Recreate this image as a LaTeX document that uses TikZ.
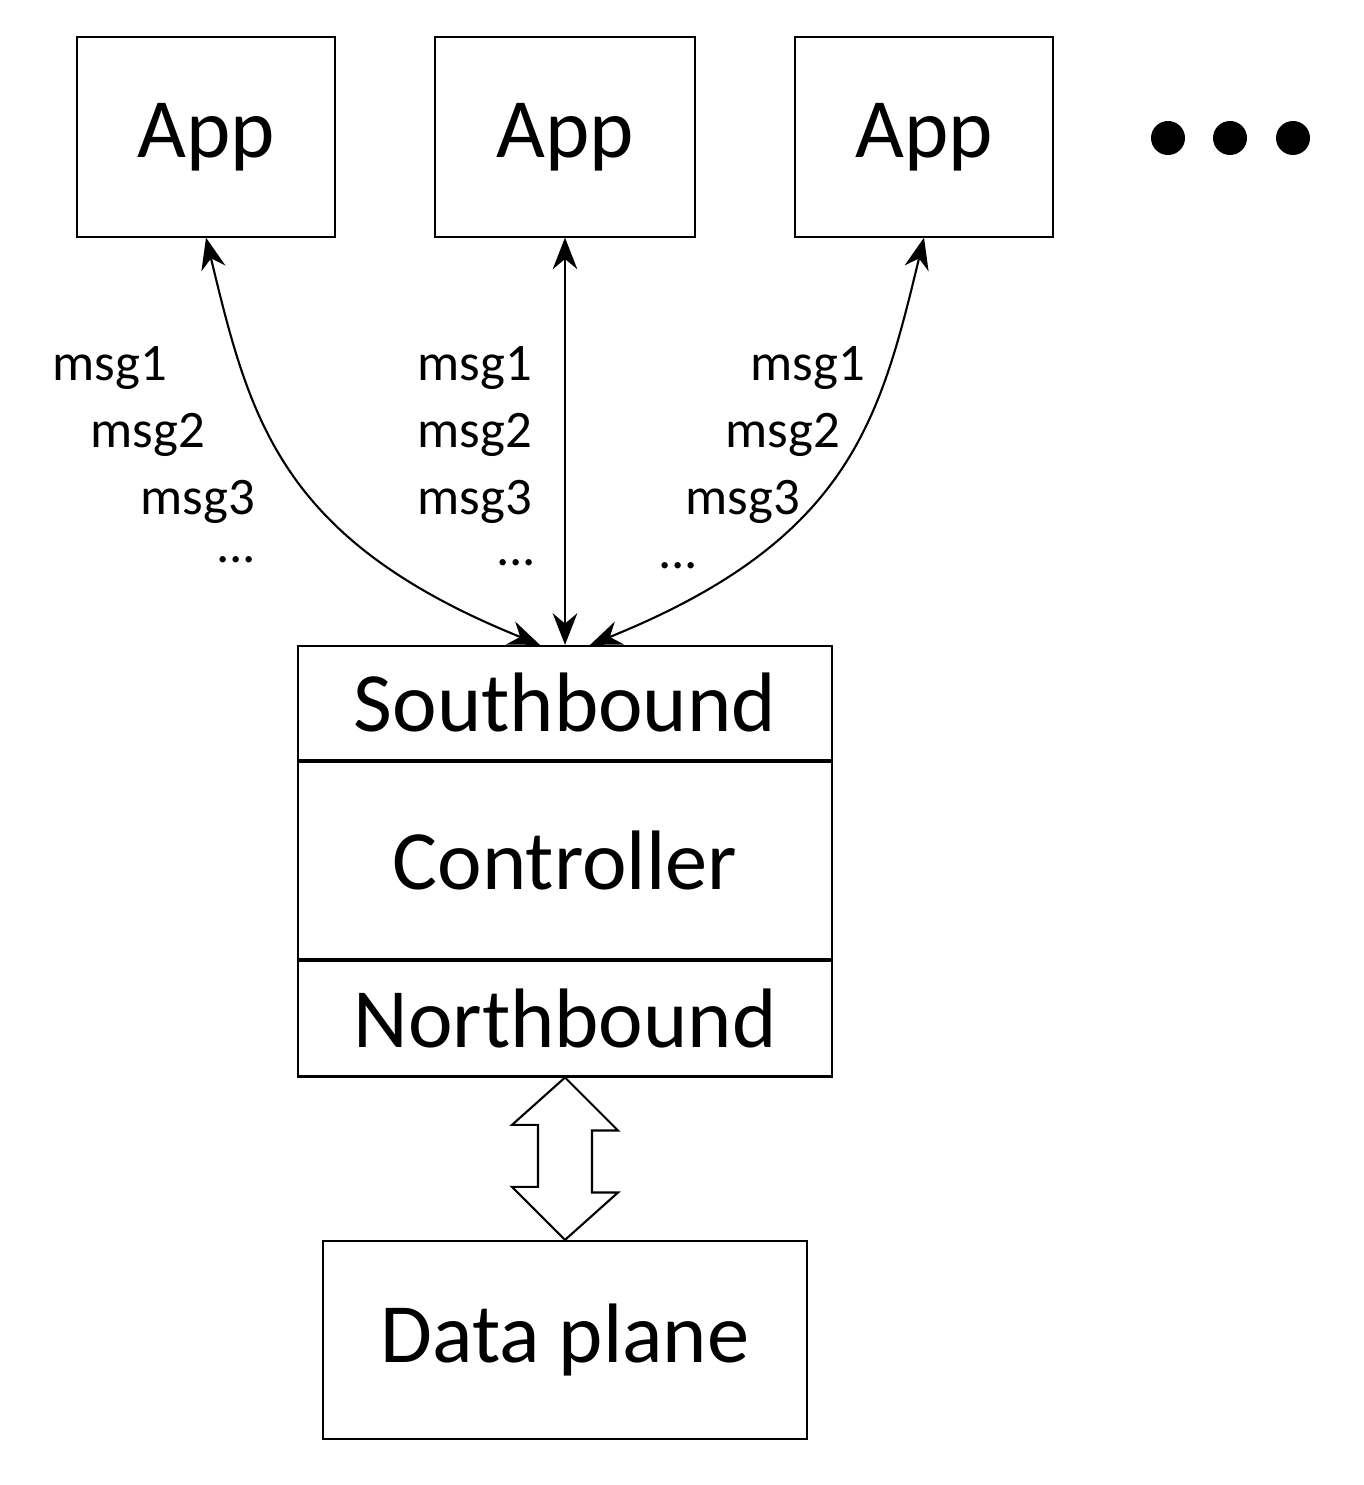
\documentclass[tikz,border=0pt]{standalone}
\usepackage{fontspec}
\setmainfont{Carlito}
\usetikzlibrary{positioning,arrows.meta,calc}

\begin{document}
\begin{tikzpicture}[x=0.01cm, y=-0.01cm, >={Stealth[length=9pt,width=7pt]},
  box/.style={draw, semithick, inner sep=0pt, font=\fontsize{24}{28}\selectfont},
  msg/.style={font=\fontsize{15}{18}\selectfont, inner sep=0pt}]
\useasboundingbox (0,0) rectangle (1364,1485);
% apps
\node[box, minimum width=2.58cm, minimum height=1.99cm] (A1) at (206,137) {App};
\node[box, minimum width=2.60cm, minimum height=1.99cm] (A2) at (565,137) {App};
\node[box, minimum width=2.58cm, minimum height=1.99cm] (A3) at (924,137) {App};
\foreach \x in {1168,1230,1293} \fill (\x,138) circle (17);
% controller stack
\node[box, minimum width=5.34cm, minimum height=1.14cm] (S) at (565,703) {Southbound};
\node[box, minimum width=5.34cm, minimum height=1.97cm, below=0pt of S] (C) {Controller};
\node[box, minimum width=5.34cm, minimum height=1.15cm, below=0pt of C] (N) {Northbound};
\node[box, minimum width=4.84cm, minimum height=1.98cm] (D) at (565,1340) {Data plane};
% connectors
\draw[semithick, <->] (A1.south) .. controls (250,420) and (280,540) .. ($(S.north)+(-25,0)$);
\draw[semithick, <->] (A2.south) -- (S.north);
\draw[semithick, <->] (A3.south) .. controls (880,420) and (850,540) .. ($(S.north)+(25,0)$);
\draw[semithick] (N.south) -- ++(53,53) -- ++(-26,0) -- ++(0,62) -- ++(26,0)
  -- (D.north) -- ++(-53,-53) -- ++(26,0) -- ++(0,-62) -- ++(-26,0) -- cycle;
% messages
\node[msg] (l1) at (110,368) {msg1};
\node[msg] (l2) at (148,435) {msg2};
\node[msg] (l3) at (198,502) {msg3};
\node[msg] (l4) at (236,560) {...};
\node[msg] (m1) at (475,368) {msg1};
\node[msg] (m2) at (475,435) {msg2};
\node[msg] (m3) at (475,502) {msg3};
\node[msg] (m4) at (516,563) {...};
\node[msg] (r1) at (808,368) {msg1};
\node[msg] (r2) at (783,435) {msg2};
\node[msg] (r3) at (743,502) {msg3};
\node[msg] (r4) at (678,566) {...};
\end{tikzpicture}
\end{document}
